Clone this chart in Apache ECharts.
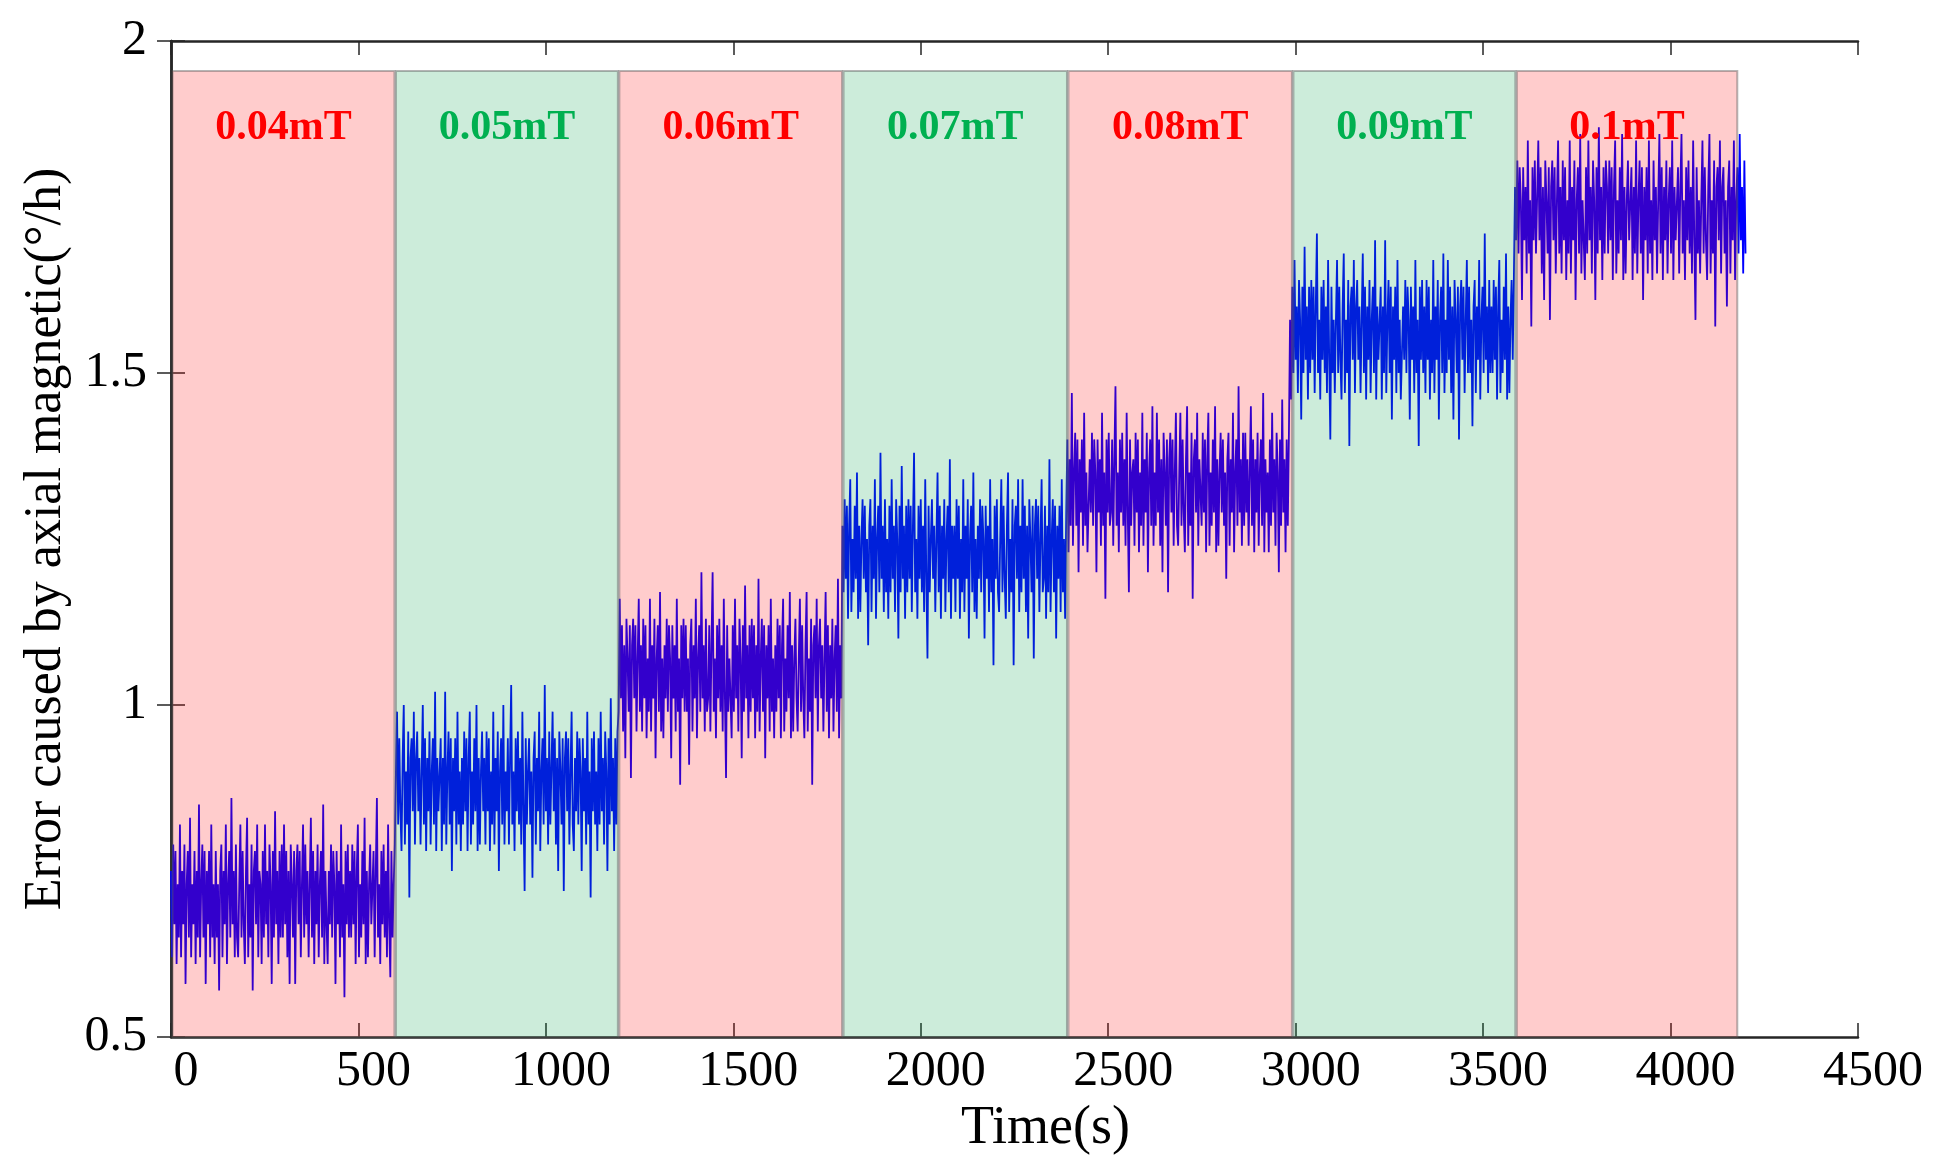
<!DOCTYPE html>
<html>
<head>
<meta charset="utf-8">
<title>Error caused by axial magnetic</title>
<script src="https://cdn.jsdelivr.net/npm/echarts@6/dist/echarts.min.js"></script>
<style>
html, body { margin: 0; padding: 0; background: #fff; }
#main { width: 1949px; height: 1175px; }
</style>
</head>
<body>
<div id="main"></div>
<script>
// x ticks / y ticks
var xTicks = [0, 500, 1000, 1500, 2000, 2500, 3000, 3500, 4000, 4500];
var yTicks = [0.5, 1, 1.5, 2];

// 磁场等级区段
var bandNames = ['0.04mT', '0.05mT', '0.06mT', '0.07mT', '0.08mT', '0.09mT', '0.1mT'];
var bandStart = [4, 600, 1196, 1794, 2394, 2994, 3590];
var bandEnd = [596, 1192, 1790, 2390, 2990, 3586, 4178];
var bandTop = 1.955;

// time span of each data segment (s)
var segStart = [0, 597, 1194, 1791, 2388, 2985, 3582];
var segEnd = [594, 1191, 1788, 2385, 2982, 3579, 4200];

// readings per segment
var seg1 = [
0.75,0.62,0.79,0.67,0.78,0.61,0.73,0.65,0.82,0.62,0.75,0.67,0.79,0.58,0.73,0.78,0.65,0.83,0.62,0.73,
0.67,0.78,0.61,0.75,0.65,0.85,0.62,0.73,0.79,0.65,0.78,0.58,0.75,0.67,0.78,0.62,0.82,0.65,0.73,0.61,
0.78,0.65,0.73,0.57,0.75,0.79,0.62,0.75,0.67,0.82,0.61,0.73,0.78,0.65,0.86,0.67,0.75,0.62,0.79,0.65,
0.62,0.73,0.82,0.65,0.78,0.67,0.61,0.75,0.83,0.62,0.73,0.65,0.79,0.57,0.75,0.78,0.67,0.82,0.62,0.75,
0.73,0.61,0.78,0.65,0.82,0.67,0.75,0.62,0.79,0.73,0.58,0.78,0.65,0.84,0.67,0.75,0.61,0.78,0.65,0.79,
0.65,0.82,0.67,0.78,0.62,0.75,0.58,0.79,0.73,0.65,0.78,0.58,0.75,0.79,0.67,0.78,0.62,0.73,0.82,0.65,
0.79,0.67,0.75,0.62,0.73,0.83,0.65,0.78,0.61,0.75,0.67,0.79,0.62,0.73,0.78,0.65,0.85,0.61,0.75,0.67,
0.61,0.75,0.67,0.79,0.65,0.78,0.73,0.58,0.78,0.67,0.75,0.62,0.82,0.65,0.73,0.56,0.78,0.67,0.79,0.65,
0.75,0.65,0.79,0.67,0.78,0.61,0.75,0.82,0.62,0.73,0.65,0.78,0.67,0.83,0.61,0.75,0.62,0.73,0.79,0.67,
0.67,0.78,0.62,0.75,0.86,0.65,0.73,0.61,0.78,0.67,0.79,0.65,0.75,0.62,0.82,0.67,0.59,0.78,0.65,0.73];
var seg2 = [
0.79,0.90,0.99,0.82,0.95,0.84,0.78,0.92,1.00,0.79,0.90,0.82,0.96,0.71,0.92,0.95,0.84,0.99,0.79,0.92,
0.96,0.84,0.92,0.79,0.90,1.00,0.82,0.95,0.78,0.92,0.84,0.96,0.79,0.90,0.95,0.82,1.02,0.78,0.92,0.84,
0.84,0.95,0.78,0.92,0.82,1.02,0.79,0.90,0.96,0.82,0.95,0.75,0.92,0.84,0.95,0.79,0.99,0.82,0.90,0.78,
0.92,0.82,0.96,0.84,0.95,0.78,0.92,0.99,0.79,0.90,0.82,0.95,0.84,1.00,0.78,0.92,0.79,0.90,0.96,0.84,
0.92,0.79,0.96,0.84,0.95,0.78,0.90,0.82,0.99,0.79,0.92,0.84,0.96,0.75,0.90,0.95,0.82,1.00,0.79,0.90,
0.84,0.95,0.79,0.92,1.03,0.82,0.90,0.78,0.95,0.84,0.96,0.82,0.92,0.79,0.99,0.84,0.72,0.95,0.82,0.90,
0.95,0.82,0.90,0.74,0.92,0.96,0.79,0.92,0.84,0.99,0.78,0.90,0.95,0.82,1.03,0.84,0.92,0.79,0.96,0.82,
0.82,0.99,0.84,0.95,0.79,0.92,0.75,0.96,0.90,0.82,0.95,0.72,0.92,0.96,0.84,0.95,0.79,0.90,0.99,0.82,
0.78,0.92,0.84,0.96,0.82,0.95,0.90,0.75,0.95,0.84,0.92,0.79,0.99,0.82,0.90,0.71,0.95,0.84,0.96,0.82,
0.90,0.78,0.95,0.82,0.99,0.84,0.92,0.79,0.96,0.90,0.75,0.95,0.82,1.01,0.84,0.92,0.78,0.95,0.82,0.96];
var seg3 = [
0.99,1.16,1.01,1.12,0.96,1.09,0.92,1.13,1.07,0.99,1.12,0.89,1.09,1.13,1.01,1.12,0.96,1.07,1.16,0.99,
1.09,0.96,1.13,1.01,1.12,0.95,1.07,0.99,1.16,0.96,1.09,1.01,1.13,0.92,1.07,1.12,0.99,1.17,0.96,1.07,
0.95,1.09,1.01,1.13,0.99,1.12,1.07,0.92,1.12,1.01,1.09,0.96,1.16,0.99,1.07,0.88,1.12,1.01,1.13,0.99,
1.12,0.99,1.07,0.91,1.09,1.13,0.96,1.09,1.01,1.16,0.95,1.07,1.12,0.99,1.20,1.01,1.09,0.96,1.13,0.99,
1.01,1.12,0.96,1.09,1.20,0.99,1.07,0.95,1.12,1.01,1.13,0.99,1.09,0.96,1.16,1.01,0.89,1.12,0.99,1.07,
1.07,0.95,1.12,0.99,1.16,1.01,1.09,0.96,1.13,1.07,0.92,1.12,0.99,1.18,1.01,1.09,0.95,1.12,0.99,1.13,
1.01,1.12,0.95,1.09,0.99,1.19,0.96,1.07,1.13,0.99,1.12,0.92,1.09,1.01,1.12,0.96,1.16,0.99,1.07,0.95,
1.09,0.99,1.13,1.01,1.12,0.95,1.09,1.16,0.96,1.07,0.99,1.12,1.01,1.17,0.95,1.09,0.96,1.07,1.13,1.01,
0.96,1.07,1.16,0.99,1.12,1.01,0.95,1.09,1.17,0.96,1.07,0.99,1.13,0.88,1.09,1.12,1.01,1.16,0.96,1.09,
1.13,1.01,1.09,0.96,1.07,1.17,0.99,1.12,0.95,1.09,1.01,1.13,0.96,1.07,1.12,0.99,1.19,0.95,1.09,1.01];
var seg4 = [
1.27,1.17,1.31,1.19,1.30,1.13,1.27,1.34,1.14,1.25,1.17,1.30,1.19,1.35,1.13,1.27,1.14,1.25,1.31,1.19,
1.30,1.17,1.25,1.09,1.27,1.31,1.14,1.27,1.19,1.34,1.13,1.25,1.30,1.17,1.38,1.19,1.27,1.14,1.31,1.17,
1.25,1.13,1.30,1.17,1.34,1.19,1.27,1.14,1.31,1.25,1.10,1.30,1.17,1.36,1.19,1.27,1.13,1.30,1.17,1.31,
1.19,1.30,1.14,1.27,1.38,1.17,1.25,1.13,1.30,1.19,1.31,1.17,1.27,1.14,1.34,1.19,1.07,1.30,1.17,1.25,
1.31,1.19,1.27,1.14,1.25,1.35,1.17,1.30,1.13,1.27,1.19,1.31,1.14,1.25,1.30,1.17,1.37,1.13,1.27,1.19,
1.27,1.14,1.31,1.19,1.30,1.13,1.25,1.17,1.34,1.14,1.27,1.19,1.31,1.10,1.25,1.30,1.17,1.35,1.14,1.25,
1.13,1.27,1.19,1.31,1.17,1.30,1.25,1.10,1.30,1.19,1.27,1.14,1.34,1.17,1.25,1.06,1.30,1.19,1.31,1.17,
1.14,1.25,1.34,1.17,1.30,1.19,1.13,1.27,1.35,1.14,1.25,1.17,1.31,1.06,1.27,1.30,1.19,1.34,1.14,1.27,
1.17,1.34,1.19,1.30,1.14,1.27,1.10,1.31,1.25,1.17,1.30,1.07,1.27,1.31,1.19,1.30,1.14,1.25,1.34,1.17,
1.19,1.30,1.13,1.27,1.17,1.37,1.14,1.25,1.31,1.17,1.30,1.10,1.27,1.19,1.30,1.14,1.34,1.17,1.25,1.13];
var seg5 = [
1.29,1.40,1.23,1.37,1.27,1.47,1.24,1.35,1.41,1.27,1.40,1.20,1.37,1.29,1.40,1.24,1.44,1.27,1.35,1.23,
1.23,1.37,1.29,1.41,1.27,1.40,1.35,1.20,1.40,1.29,1.37,1.24,1.44,1.27,1.35,1.16,1.40,1.29,1.41,1.27,
1.29,1.40,1.24,1.37,1.48,1.27,1.35,1.23,1.40,1.29,1.41,1.27,1.37,1.24,1.44,1.29,1.17,1.40,1.27,1.35,
1.37,1.24,1.41,1.29,1.40,1.23,1.35,1.27,1.44,1.24,1.37,1.29,1.41,1.20,1.35,1.40,1.27,1.45,1.24,1.35,
1.27,1.44,1.29,1.40,1.24,1.37,1.20,1.41,1.35,1.27,1.40,1.17,1.37,1.41,1.29,1.40,1.24,1.35,1.44,1.27,
1.24,1.35,1.44,1.27,1.40,1.29,1.23,1.37,1.45,1.24,1.35,1.27,1.41,1.16,1.37,1.40,1.29,1.44,1.24,1.37,
1.37,1.27,1.41,1.29,1.40,1.23,1.37,1.44,1.24,1.35,1.27,1.40,1.29,1.45,1.23,1.37,1.24,1.35,1.41,1.29,
1.40,1.27,1.35,1.19,1.37,1.41,1.24,1.37,1.29,1.44,1.23,1.35,1.40,1.27,1.48,1.29,1.37,1.24,1.41,1.27,
1.41,1.29,1.37,1.24,1.35,1.45,1.27,1.40,1.23,1.37,1.29,1.41,1.24,1.35,1.40,1.27,1.47,1.23,1.37,1.29,
1.35,1.23,1.40,1.27,1.44,1.29,1.37,1.24,1.41,1.35,1.20,1.40,1.27,1.46,1.29,1.37,1.23,1.40,1.27,1.41];
var seg6 = [
1.58,1.46,1.63,1.50,1.67,1.52,1.60,1.47,1.64,1.58,1.43,1.63,1.50,1.69,1.52,1.60,1.46,1.63,1.50,1.64,
1.52,1.63,1.47,1.60,1.71,1.50,1.58,1.46,1.63,1.52,1.64,1.50,1.60,1.47,1.67,1.52,1.40,1.63,1.50,1.58,
1.47,1.58,1.67,1.50,1.63,1.52,1.46,1.60,1.68,1.47,1.58,1.50,1.64,1.39,1.60,1.63,1.52,1.67,1.47,1.60,
1.64,1.52,1.60,1.47,1.58,1.68,1.50,1.63,1.46,1.60,1.52,1.64,1.47,1.58,1.63,1.50,1.70,1.46,1.60,1.52,
1.52,1.63,1.46,1.60,1.50,1.70,1.47,1.58,1.64,1.50,1.63,1.43,1.60,1.52,1.63,1.47,1.67,1.50,1.58,1.46,
1.46,1.60,1.52,1.64,1.50,1.63,1.58,1.43,1.63,1.52,1.60,1.47,1.67,1.50,1.58,1.39,1.63,1.52,1.64,1.50,
1.60,1.47,1.64,1.52,1.63,1.46,1.58,1.50,1.67,1.47,1.60,1.52,1.64,1.43,1.58,1.63,1.50,1.68,1.47,1.58,
1.50,1.67,1.52,1.63,1.47,1.60,1.43,1.64,1.58,1.50,1.63,1.40,1.60,1.64,1.52,1.63,1.47,1.58,1.67,1.50,
1.63,1.50,1.58,1.42,1.60,1.64,1.47,1.60,1.52,1.67,1.46,1.58,1.63,1.50,1.71,1.52,1.60,1.47,1.64,1.50,
1.60,1.50,1.64,1.52,1.63,1.46,1.60,1.67,1.47,1.58,1.50,1.63,1.52,1.68,1.46,1.60,1.47,1.58,1.64,1.52];
var seg7 = [
1.64,1.78,1.70,1.82,1.68,1.81,1.76,1.61,1.81,1.70,1.78,1.65,1.85,1.68,1.76,1.57,1.81,1.70,1.82,1.68,
1.68,1.85,1.70,1.81,1.65,1.78,1.61,1.82,1.76,1.68,1.81,1.58,1.78,1.82,1.70,1.81,1.65,1.76,1.85,1.68,
1.78,1.65,1.82,1.70,1.81,1.64,1.76,1.68,1.85,1.65,1.78,1.70,1.82,1.61,1.76,1.81,1.68,1.86,1.65,1.76,
1.76,1.64,1.81,1.68,1.85,1.70,1.78,1.65,1.82,1.76,1.61,1.81,1.68,1.87,1.70,1.78,1.64,1.81,1.68,1.82,
1.78,1.68,1.82,1.70,1.81,1.64,1.78,1.85,1.65,1.76,1.68,1.81,1.70,1.86,1.64,1.78,1.65,1.76,1.82,1.70,
1.70,1.81,1.64,1.78,1.68,1.85,1.65,1.76,1.82,1.68,1.81,1.61,1.78,1.70,1.81,1.65,1.85,1.68,1.76,1.64,
1.82,1.70,1.78,1.65,1.76,1.86,1.68,1.81,1.64,1.78,1.70,1.82,1.65,1.76,1.81,1.68,1.85,1.64,1.78,1.70,
1.70,1.81,1.65,1.78,1.86,1.68,1.76,1.64,1.81,1.70,1.82,1.68,1.78,1.65,1.85,1.70,1.58,1.81,1.68,1.76,
1.65,1.76,1.85,1.68,1.81,1.70,1.64,1.78,1.86,1.65,1.76,1.68,1.82,1.57,1.78,1.81,1.70,1.85,1.65,1.78,
1.81,1.68,1.76,1.60,1.78,1.82,1.65,1.78,1.70,1.85,1.64,1.76,1.81,1.68,1.86,1.70,1.78,1.65,1.82,1.68];
var segments = [seg1, seg2, seg3, seg4, seg5, seg6, seg7];

// 组装 [time, value]
var lineData = [];
for (var k = 0; k < segments.length; k++) {
    var vals = segments[k];
    var n = vals.length;
    for (var i = 0; i < n; i++) {
        var t = segStart[k] + (segEnd[k] - segStart[k]) * i / (n - 1);
        lineData.push([t, vals[i]]);
    }
}

// 区段 (透明色叠在曲线上面)
var areaData = [];
for (var j = 0; j < bandNames.length; j++) {
    var isRed = j % 2 == 0;
    areaData.push([{
        name: bandNames[j],
        xAxis: bandStart[j],
        yAxis: 0.5,
        itemStyle: { color: isRed ? 'rgba(255,0,0,0.2)' : 'rgba(0,160,70,0.2)' },
        label: { color: isRed ? '#ff0000' : '#00b050' }
    }, {
        xAxis: bandEnd[j],
        yAxis: bandTop
    }]);
}

var serif = '"Liberation Serif", "Times New Roman", serif';
var axisColor = '#262626';

var chart = echarts.init(document.getElementById('main'));

var option = {
    animation: false,
    backgroundColor: '#fff',
    grid: { left: 171, right: 91, top: 41, bottom: 138 },
    xAxis: [{
        type: 'value',
        position: 'bottom',
        min: xTicks[0],
        max: xTicks[xTicks.length - 1],
        interval: 500,
        name: 'Time(s)',
        nameLocation: 'middle',
        nameGap: 58,
        nameTextStyle: { fontFamily: serif, fontSize: 54, color: '#000', padding: [0, 0, 0, 62] },
        axisLine: { show: true, lineStyle: { color: axisColor, width: 2.5 } },
        axisTick: { show: true, inside: true, length: 14, lineStyle: { color: axisColor, width: 1.5 } },
        axisLabel: {
            fontFamily: serif, fontSize: 50, color: '#000', margin: 10, padding: [0, 0, 0, 30],
            formatter: function (v) { return String(v); }
        },
        splitLine: { show: false }
    }, {
        type: 'value',
        position: 'top',
        min: xTicks[0],
        max: xTicks[xTicks.length - 1],
        interval: 500,
        axisLine: { show: true, lineStyle: { color: axisColor, width: 2.5 } },
        axisTick: { show: true, inside: true, length: 14, lineStyle: { color: axisColor, width: 1.5 } },
        axisLabel: { show: false },
        splitLine: { show: false }
    }],
    yAxis: [{
        type: 'value',
        position: 'left',
        min: yTicks[0],
        max: yTicks[yTicks.length - 1],
        interval: 0.5,
        name: 'Error caused by axial magnetic(°/h)',
        nameLocation: 'middle',
        nameGap: 99,
        nameTextStyle: { fontFamily: serif, fontSize: 52, color: '#000' },
        axisLine: { show: true, lineStyle: { color: axisColor, width: 2.5 } },
        axisTick: { show: true, inside: true, length: 14, lineStyle: { color: axisColor, width: 1.5 } },
        axisLabel: { fontFamily: serif, fontSize: 50, color: '#000', margin: 24 },
        splitLine: { show: false }
    }, {
        type: 'value',
        position: 'right',
        min: yTicks[0],
        max: yTicks[yTicks.length - 1],
        interval: 0.5,
        axisLine: { show: true, lineStyle: { color: axisColor, width: 2.5 } },
        axisTick: { show: true, inside: true, length: 14, lineStyle: { color: axisColor, width: 1.5 } },
        axisLabel: { show: false },
        splitLine: { show: false }
    }],
    series: [{
        name: 'error',
        type: 'line',
        data: lineData,
        showSymbol: false,
        symbol: 'none',
        sampling: null,
        z: 2,
        lineStyle: { color: '#0000ff', width: 1.8 },
        markArea: {
            silent: true,
            z: 5,
            itemStyle: { borderColor: 'rgba(90,90,90,0.45)', borderWidth: 2 },
            label: {
                show: true,
                position: 'insideTop',
                distance: 37,
                fontFamily: serif,
                fontWeight: 'bold',
                fontSize: 42
            },
            data: areaData
        }
    }]
};

chart.setOption(option);
</script>
</body>
</html>
